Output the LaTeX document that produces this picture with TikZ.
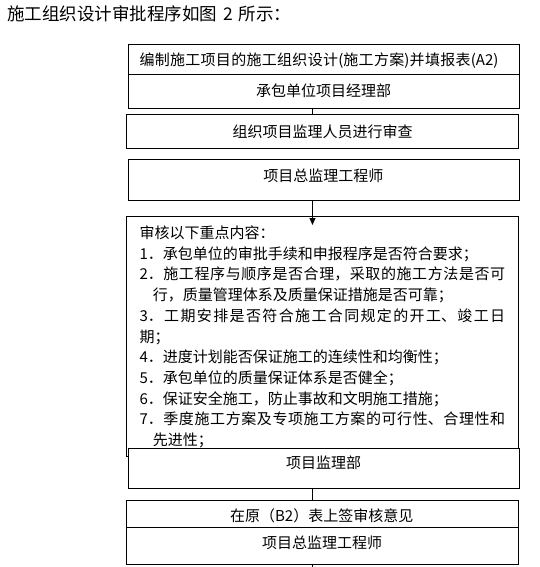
\documentclass[tikz,border=0pt]{standalone}
\usepackage{fontspec}
\setmainfont{Noto Sans CJK SC}
\usetikzlibrary{arrows.meta}
\tikzset{
  boxst/.style={draw, line width=1pt, inner sep=0pt, fill=white},
  lbl/.style={inner sep=0pt, anchor=base, font=\fontsize{15pt}{20.7pt}\selectfont},
  conn/.style={line width=1pt},
}
\begin{document}
\begin{tikzpicture}[x=1pt,y=-1pt]
\useasboundingbox (0,0) rectangle (540,567);
% title
\node[inner sep=0pt, anchor=base west, font=\fontsize{17.5pt}{20pt}\selectfont] (title) at (7,20.5) {施工组织设计审批程序如图\hspace{6pt}2\hspace{6pt}所示：};
% boxes
\node[boxst, minimum width=391pt, minimum height=30pt] (b1a) at (323.8,59.3) {};
\node[boxst, minimum width=391pt, minimum height=34pt] (b1b) at (323.8,91.3) {};
\node[boxst, minimum width=392.7pt, minimum height=33.3pt] (b2) at (322.35,131.65) {};
\node[boxst, minimum width=391pt, minimum height=40.7pt] (b3) at (323.8,179.65) {};
\node[boxst, minimum width=391.8pt, minimum height=240.7pt] (b4) at (322.4,336.35) {};
\node[boxst, minimum width=391pt, minimum height=40pt] (b5) at (323.8,468.3) {};
\node[boxst, minimum width=391.6pt, minimum height=26.3pt] (b6a) at (322.5,513.85) {};
\node[boxst, minimum width=391.6pt, minimum height=37pt] (b6b) at (322.5,545.5) {};
% connectors
\coordinate (cx) at (312.5,0);
\coordinate (tip) at (312.5,225);
\coordinate (bend) at (312.5,567);
\draw[conn] (b1b.south -| cx) -- (b2.north -| cx);
\draw[conn, -{Triangle[width=6pt,length=7pt]}] (b3.south -| cx) -- (tip);
\draw[conn] (b5.south -| cx) -- (b6a.north -| cx);
\draw[conn] (b6b.south -| cx) -- (bend);
% texts
\node[inner sep=0pt, anchor=base west] (t1a) at (139.3,65.5) {\parbox[t]{359pt}{\fontsize{15pt}{20.7pt}\selectfont\XeTeXlinebreaklocale "zh"\XeTeXlinebreakskip=0pt plus 4pt\parfillskip=0pt 编制施工项目的施工组织设计(施工方案)并填报表(A2)\par}};
\node[lbl] (t1b) at (323.5,96.5) {承包单位项目经理部};
\node[lbl] (t2) at (322.7,137.2) {组织项目监理人员进行审查};
\node[lbl] (t3) at (323.3,181.2) {项目总监理工程师};
\node[inner sep=0pt, anchor=base west] (t4) at (139.3,238.5) {\parbox[t]{365.7pt}{\fontsize{15pt}{20.7pt}\selectfont\XeTeXlinebreaklocale "zh"\XeTeXlinebreakskip=0pt plus 3pt
审核以下重点内容：\par
1．承包单位的审批手续和申报程序是否符合要求；\par
{\hangindent=13.4pt\hangafter=1 2．施工程序与顺序是否合理，采取的施工方法是否可\linebreak 行，质量管理体系及质量保证措施是否可靠；\par}
3．工期安排是否符合施工合同规定的开工、竣工日\linebreak 期；\par
4．进度计划能否保证施工的连续性和均衡性；\par
5．承包单位的质量保证体系是否健全；\par
6．保证安全施工，防止事故和文明施工措施；\par
{\hangindent=13.4pt\hangafter=1 7．季度施工方案及专项施工方案的可行性、合理性和\linebreak 先进性；\par}}};
\node[lbl] (t5) at (323.5,468.8) {项目监理部};
\node[lbl] (t6a) at (321.7,521.5) {在原（B2）表上签审核意见};
\node[lbl] (t6b) at (322.2,548.8) {项目总监理工程师};
\end{tikzpicture}
\end{document}
